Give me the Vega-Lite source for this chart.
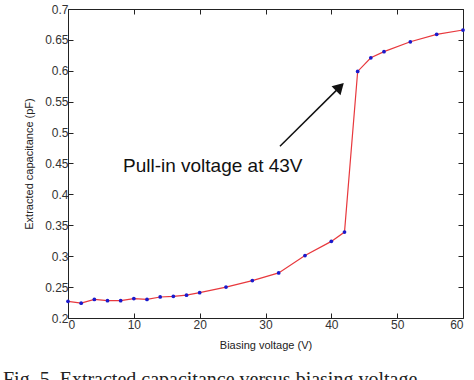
{
  "$schema": "https://vega.github.io/schema/vega-lite/v6.json",
  "autosize": {"type": "none"},
  "width": 395,
  "height": 309,
  "padding": {"left": 68, "top": 9, "right": 11, "bottom": 62},
  "background": "white",
  "config": {
    "view": {"stroke": "#222", "strokeWidth": 1},
    "axis": {
      "grid": false,
      "domain": false,
      "tickSize": -5,
      "tickColor": "#222",
      "labelFont": "Liberation Sans",
      "labelFontSize": 12,
      "labelColor": "#333",
      "titleFont": "Liberation Sans",
      "titleFontSize": 11,
      "titleFontWeight": "normal",
      "titleColor": "#222"
    }
  },
  "title": {
    "text": "Fig. 5. Extracted capacitance versus biasing voltage",
    "orient": "bottom",
    "anchor": "start",
    "frame": "group",
    "dx": -65,
    "offset": 20,
    "font": "Liberation Serif",
    "fontSize": 20,
    "fontWeight": "normal",
    "color": "#222",
    "baseline": "top"
  },
  "datasets": {
    "cap": [
      {"v": 0, "c": 0.227}, {"v": 2, "c": 0.224}, {"v": 4, "c": 0.230},
      {"v": 6, "c": 0.228}, {"v": 8, "c": 0.228}, {"v": 10, "c": 0.2315},
      {"v": 12, "c": 0.230}, {"v": 14, "c": 0.234}, {"v": 16, "c": 0.235},
      {"v": 18, "c": 0.237}, {"v": 20, "c": 0.241}, {"v": 24, "c": 0.250},
      {"v": 28, "c": 0.2605}, {"v": 32, "c": 0.273}, {"v": 36, "c": 0.301},
      {"v": 40, "c": 0.324}, {"v": 42, "c": 0.339}, {"v": 44, "c": 0.599},
      {"v": 46, "c": 0.621}, {"v": 48, "c": 0.631}, {"v": 52, "c": 0.647},
      {"v": 56, "c": 0.659}, {"v": 60, "c": 0.666}
    ],
    "arrow": [{"x1": 32.2, "y1": 0.478, "x2": 41.3, "y2": 0.574}],
    "note": [{"x": 8.35, "y": 0.436, "label": "Pull-in voltage at 43V"}]
  },
  "layer": [
    {
      "data": {"name": "cap"},
      "mark": {"type": "line", "color": "#e8383d", "strokeWidth": 1.2},
      "encoding": {
        "x": {"field": "v", "type": "quantitative", "scale": {"domain": [0, 60], "nice": false},
              "axis": {"values": [0, 10, 20, 30, 40, 50, 60], "title": "Biasing voltage (V)", "labelPadding": 6, "titlePadding": 9}},
        "y": {"field": "c", "type": "quantitative", "scale": {"domain": [0.2, 0.7], "nice": false, "zero": false},
              "axis": {"values": [0.2, 0.25, 0.3, 0.35, 0.4, 0.45, 0.5, 0.55, 0.6, 0.65, 0.7], "format": ".2~f", "title": "Extracted capacitance (pF)", "labelPadding": 5, "titlePadding": 10}}
      }
    },
    {
      "data": {"name": "cap"},
      "mark": {"type": "point", "filled": true, "color": "#1a1acc", "size": 14, "opacity": 1},
      "encoding": {
        "x": {"field": "v", "type": "quantitative", "axis": {"orient": "top", "values": [0, 10, 20, 30, 40, 50, 60], "labels": false, "title": null}},
        "y": {"field": "c", "type": "quantitative", "axis": {"orient": "right", "values": [0.2, 0.25, 0.3, 0.35, 0.4, 0.45, 0.5, 0.55, 0.6, 0.65, 0.7], "labels": false, "title": null}}
      }
    },
    {
      "data": {"name": "arrow"},
      "mark": {"type": "rule", "color": "#111", "strokeWidth": 1.5},
      "encoding": {
        "x": {"field": "x1", "type": "quantitative", "axis": null},
        "y": {"field": "y1", "type": "quantitative", "axis": null},
        "x2": {"field": "x2"},
        "y2": {"field": "y2"}
      }
    },
    {
      "data": {"name": "arrow"},
      "mark": {"type": "point", "shape": "triangle-up", "filled": true, "color": "#111", "size": 160, "angle": 45, "opacity": 1},
      "encoding": {
        "x": {"field": "x2", "type": "quantitative", "axis": null},
        "y": {"field": "y2", "type": "quantitative", "axis": null}
      }
    },
    {
      "data": {"name": "note"},
      "mark": {"type": "text", "font": "Liberation Sans", "fontSize": 19, "align": "left", "baseline": "alphabetic", "color": "#111"},
      "encoding": {
        "x": {"field": "x", "type": "quantitative", "axis": null},
        "y": {"field": "y", "type": "quantitative", "axis": null},
        "text": {"field": "label"}
      }
    }
  ],
  "resolve": {"axis": {"x": "independent", "y": "independent"}}
}
